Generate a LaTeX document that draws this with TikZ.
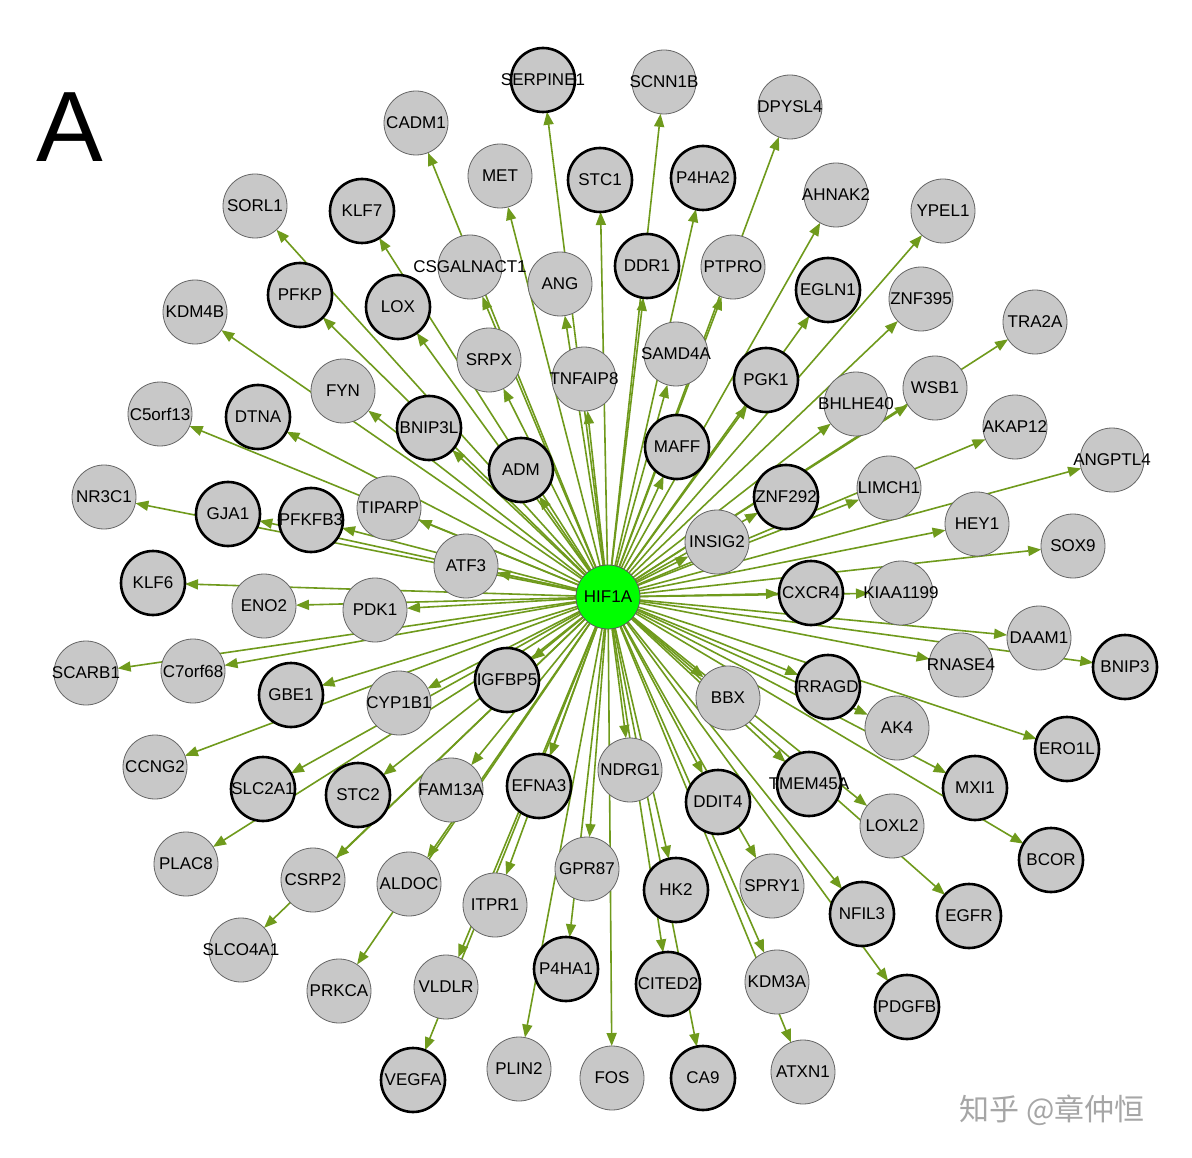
\documentclass[tikz,border=0pt]{standalone}
\usepackage{fontspec}
\setmainfont{Liberation Sans}
\newfontfamily\cjk{Noto Sans CJK SC}
\usetikzlibrary{arrows.meta}
\definecolor{edgec}{HTML}{6F9A1C}
\definecolor{nodef}{HTML}{C8C8C8}
\tikzset{
  anchorshape/.style={circle,minimum size=64pt,inner sep=0pt,outer sep=0pt},
  gn/.style={circle,fill=nodef,draw=gray!80!black,line width=0.8pt,minimum size=64pt,inner sep=0pt,
    label={[font=\fontsize{17}{19}\selectfont,inner sep=0pt]center:#1}},
  tk/.style={gn=#1,draw=black,line width=2.6pt},
  thin/.style={gn=#1},
  edge/.style={draw=edgec,line width=1.6pt,-{Triangle[length=13pt,width=10pt]}},
}
\def\nodelist{
SERPINE1/543/80/tk, SCNN1B/664/82/thin, DPYSL4/790/107/thin, CADM1/416/123/thin,
MET/500/176/thin, STC1/600/180/tk, P4HA2/703/178/tk, AHNAK2/836/195/thin,
YPEL1/943/211/thin, SORL1/255/206/thin, KLF7/362/211/tk, PFKP/300/295/tk,
LOX/398/307/tk, CSGALNACT1/470/267/thin, ANG/560/284/thin, DDR1/647/266/tk,
PTPRO/733/267/thin, EGLN1/828/290/tk, ZNF395/921/299/thin, TRA2A/1035/322/thin,
KDM4B/195/312/thin, SRPX/489/360/thin, TNFAIP8/584/379/thin, SAMD4A/676/354/thin,
PGK1/766/380/tk, WSB1/935/388/thin, FYN/343/391/thin, C5orf13/160/414/thin,
DTNA/258/417/tk, BNIP3L/429/428/tk, ADM/521/470/tk, MAFF/677/447/tk,
BHLHE40/856/404/thin, AKAP12/1015/427/thin, ANGPTL4/1112/460/thin, NR3C1/104/497/thin,
GJA1/228/514/tk, PFKFB3/311/520/tk, TIPARP/389/508/thin, ATF3/466/566/thin,
INSIG2/717/542/thin, ZNF292/786/497/tk, LIMCH1/889/488/thin, HEY1/977/524/thin,
SOX9/1073/546/thin, KLF6/153/583/tk, ENO2/264/606/thin, PDK1/375/610/thin,
CXCR4/811/593/tk, KIAA1199/901/593/thin, DAAM1/1039/638/thin, BNIP3/1125/667/tk,
RNASE4/961/665/thin, SCARB1/86/673/thin, C7orf68/193/671/thin, GBE1/291/695/tk,
CYP1B1/399/703/thin, IGFBP5/507/680/tk, BBX/728/698/thin, RRAGD/828/687/tk,
AK4/897/728/thin, ERO1L/1067/749/tk, MXI1/975/788/tk, CCNG2/155/767/thin,
SLC2A1/263/789/tk, STC2/358/795/tk, FAM13A/451/790/thin, EFNA3/539/786/tk,
NDRG1/630/770/thin, DDIT4/718/802/tk, TMEM45A/809/784/tk, LOXL2/892/826/thin,
BCOR/1051/860/tk, PLAC8/186/864/thin, CSRP2/313/880/thin, ALDOC/409/884/thin,
ITPR1/495/905/thin, GPR87/587/869/thin, HK2/676/890/tk, SPRY1/772/886/thin,
NFIL3/862/914/tk, EGFR/969/916/tk, SLCO4A1/241/950/thin, PRKCA/339/991/thin,
VLDLR/446/987/thin, P4HA1/566/969/tk, CITED2/668/984/tk, KDM3A/777/982/thin,
PDGFB/907/1007/tk, VEGFA/413/1080/tk, PLIN2/519/1069/thin, FOS/612/1078/thin,
CA9/703/1078/tk, ATXN1/803/1072/thin}
\begin{document}
\begin{tikzpicture}[x=1pt,y=-1pt]
\path[use as bounding box,fill=white] (0,0) rectangle (1192,1158);
\node[font=\fontsize{100}{100}\selectfont] (lblA) at (70,127) {A};
\node[font=\cjk\fontsize{30}{32}\selectfont,text=gray!70] (wm) at (1052,1110) {知乎 @章仲恒};
\node[anchorshape] (HIF1A) at (608,597) {};
\foreach \n/\x/\y/\s in \nodelist {
  \node[anchorshape] (\n) at (\x,\y) {};
  \draw[edge] (HIF1A) -- (\n);
}
\foreach \n/\x/\y/\s in \nodelist {
  \node[\s=\n] (v\n) at (\x,\y) {};
}
\node[circle,fill=green,draw=gray!70!black,line width=0.8pt,minimum size=64pt,inner sep=0pt,font=\fontsize{17}{19}\selectfont] (vHIF1A) at (608,597) {HIF1A};
\end{tikzpicture}
\end{document}
